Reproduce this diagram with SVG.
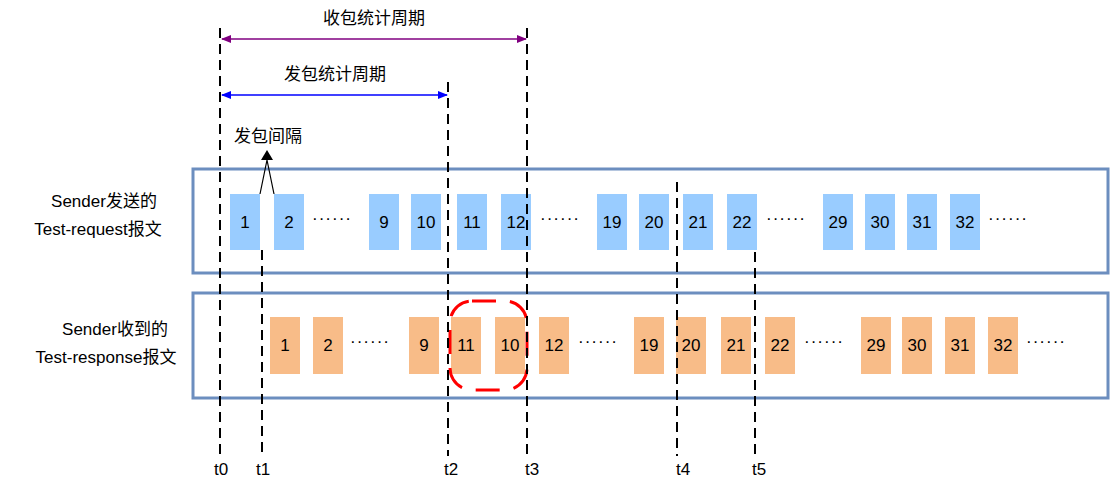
<svg xmlns="http://www.w3.org/2000/svg" width="1114" height="486" viewBox="0 0 1114 486">
<style>
text{font-family:"Liberation Sans","Noto Sans CJK SC",sans-serif;font-size:17px;fill:#000}
.c{text-anchor:middle}
.b{fill:#99ccff}
.o{fill:#f8bc88}
.fr{fill:none;stroke:#6c8ebf;stroke-width:3}
.d{stroke:#000;stroke-width:2;stroke-dasharray:10,6;fill:none}
.dots{font-size:17px;letter-spacing:1px}
</style>
<defs>
<marker id="mp" markerWidth="10" markerHeight="8" refX="9" refY="4" orient="auto-start-reverse" markerUnits="userSpaceOnUse"><path d="M0,0L10,4L0,8z" fill="#800080"/></marker>
<marker id="mb" markerWidth="10" markerHeight="8" refX="9" refY="4" orient="auto-start-reverse" markerUnits="userSpaceOnUse"><path d="M0,0L10,4L0,8z" fill="#0000ff"/></marker>
<marker id="mk" markerWidth="10" markerHeight="10" refX="5" refY="1" orient="0" markerUnits="userSpaceOnUse"><path d="M0,10L5,0L10,10z" fill="#000"/></marker>
</defs>
<g id="frames">
<rect class="fr" x="193" y="169" width="915" height="104"/>
<rect class="fr" x="193" y="293" width="915" height="105"/>
</g>
<g id="labels">
<text class="c" x="104" y="207">Sender发送的</text>
<text class="c" x="98" y="235">Test-request报文</text>
<text class="c" x="115" y="335">Sender收到的</text>
<text class="c" x="106" y="363">Test-response报文</text>
<text class="c" x="374" y="24">收包统计周期</text>
<text class="c" x="335" y="80">发包统计周期</text>
<text x="234" y="142">发包间隔</text>
</g>
<g id="send">
<rect class="b" x="230" y="194" width="30" height="56"/><text class="c" x="245" y="228">1</text>
<rect class="b" x="274" y="194" width="30" height="56"/><text class="c" x="289" y="228">2</text>
<rect class="b" x="369" y="194" width="30" height="56"/><text class="c" x="384" y="228">9</text>
<rect class="b" x="411" y="194" width="30" height="56"/><text class="c" x="426" y="228">10</text>
<rect class="b" x="457" y="194" width="30" height="56"/><text class="c" x="472" y="228">11</text>
<rect class="b" x="501" y="194" width="30" height="56"/><text class="c" x="516" y="228">12</text>
<rect class="b" x="597" y="194" width="30" height="56"/><text class="c" x="612" y="228">19</text>
<rect class="b" x="639" y="194" width="30" height="56"/><text class="c" x="654" y="228">20</text>
<rect class="b" x="683" y="194" width="30" height="56"/><text class="c" x="698" y="228">21</text>
<rect class="b" x="727" y="194" width="30" height="56"/><text class="c" x="742" y="228">22</text>
<rect class="b" x="823" y="194" width="30" height="56"/><text class="c" x="838" y="228">29</text>
<rect class="b" x="865" y="194" width="30" height="56"/><text class="c" x="880" y="228">30</text>
<rect class="b" x="907" y="194" width="30" height="56"/><text class="c" x="922" y="228">31</text>
<rect class="b" x="950" y="194" width="30" height="56"/><text class="c" x="965" y="228">32</text>
<text class="dots" x="312" y="224">······</text>
<text class="dots" x="540" y="224">······</text>
<text class="dots" x="766" y="224">······</text>
<text class="dots" x="988" y="224">······</text>
</g>
<g id="recv">
<rect class="o" x="270" y="317" width="30" height="57"/><text class="c" x="285" y="351">1</text>
<rect class="o" x="313" y="317" width="30" height="57"/><text class="c" x="328" y="351">2</text>
<rect class="o" x="409" y="317" width="30" height="57"/><text class="c" x="424" y="351">9</text>
<rect class="o" x="451" y="317" width="30" height="57"/><text class="c" x="466" y="351">11</text>
<rect class="o" x="495" y="317" width="30" height="57"/><text class="c" x="510" y="351">10</text>
<rect class="o" x="539" y="317" width="30" height="57"/><text class="c" x="554" y="351">12</text>
<rect class="o" x="634" y="317" width="30" height="57"/><text class="c" x="649" y="351">19</text>
<rect class="o" x="676" y="317" width="30" height="57"/><text class="c" x="691" y="351">20</text>
<rect class="o" x="721" y="317" width="30" height="57"/><text class="c" x="736" y="351">21</text>
<rect class="o" x="765" y="317" width="30" height="57"/><text class="c" x="780" y="351">22</text>
<rect class="o" x="861" y="317" width="30" height="57"/><text class="c" x="876" y="351">29</text>
<rect class="o" x="902" y="317" width="30" height="57"/><text class="c" x="917" y="351">30</text>
<rect class="o" x="945" y="317" width="30" height="57"/><text class="c" x="960" y="351">31</text>
<rect class="o" x="988" y="317" width="30" height="57"/><text class="c" x="1003" y="351">32</text>
<text class="dots" x="350" y="347">······</text>
<text class="dots" x="578" y="347">······</text>
<text class="dots" x="804" y="347">······</text>
<text class="dots" x="1026" y="347">······</text>
<rect x="450" y="301" width="77" height="89" rx="22" fill="none" stroke="#ff0000" stroke-width="3" stroke-dasharray="24,14"/>
</g>
<g id="connectors">
<line class="d" x1="220" y1="28" x2="220" y2="456"/>
<line class="d" x1="262" y1="250" x2="262" y2="456"/>
<line class="d" x1="448" y1="82" x2="448" y2="456"/>
<line class="d" x1="527" y1="28" x2="527" y2="456"/>
<line class="d" x1="677" y1="182" x2="677" y2="456"/>
<line class="d" x1="755" y1="252" x2="755" y2="456"/>
<line x1="222" y1="39" x2="526" y2="39" stroke="#800080" stroke-width="1.3" marker-start="url(#mp)" marker-end="url(#mp)"/>
<line x1="222" y1="95" x2="447" y2="95" stroke="#0000ff" stroke-width="1.3" marker-start="url(#mb)" marker-end="url(#mb)"/>
<path d="M260,194L267,160M274,194L267,160" fill="none" stroke="#000" stroke-width="1.2"/>
<path d="M261,160L267,150L273,160z" fill="#000"/>
</g>
<g id="ticks">
<text x="214" y="475">t0</text>
<text x="256" y="475">t1</text>
<text x="444" y="475">t2</text>
<text x="525" y="475">t3</text>
<text x="676" y="475">t4</text>
<text x="752" y="475">t5</text>
</g>
</svg>
